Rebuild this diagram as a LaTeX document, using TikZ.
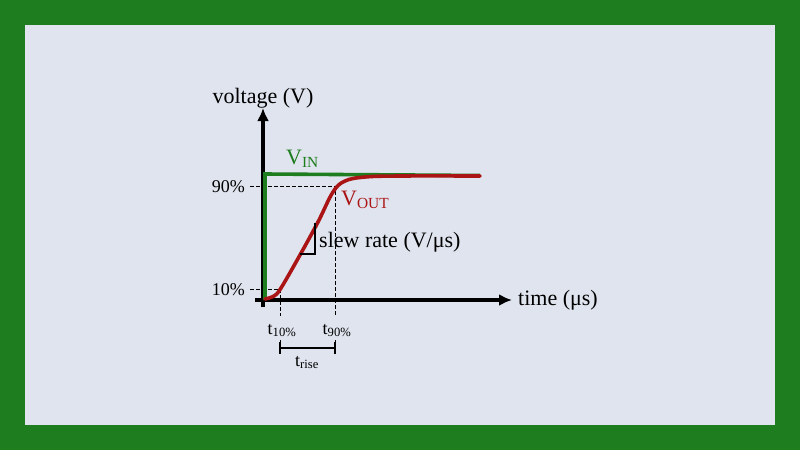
\documentclass[tikz,border=0pt]{standalone}
\usepackage{fontspec}
\setmainfont{Liberation Serif}
\usetikzlibrary{arrows.meta}
\begin{document}
\begin{tikzpicture}[x=1pt,y=-1pt,
  lbl/.style={inner sep=0pt,font=\fontsize{22}{24}\selectfont},
  sm/.style={inner sep=0pt,font=\fontsize{18}{20}\selectfont},
  dsh/.style={line width=0.9pt,dash pattern=on 3.5pt off 2.5pt},
  ax/.style={line width=3.2pt,-{Latex[length=13pt,width=12pt]}}]
\fill[fill={rgb,255:red,30;green,125;blue,30}] (0,0) rectangle (800,450);
\fill[fill={rgb,255:red,224;green,228;blue,238}] (25,25) rectangle (775,425);
\useasboundingbox (0,0) rectangle (800,450);
\coordinate (ytop) at (263,108);
\coordinate (xl) at (255,300);
\coordinate (xr) at (512,300);
% dashed guides
\draw[dsh] (250,186) -- (335,186) -- (335,316);
\draw[dsh] (250,289) -- (280,289) -- (280,316);
\draw[dsh] (335,340) -- (335,348);
\draw[dsh] (280,340) -- (280,348);
% axes
\draw[ax] (263,307) -- (ytop);
\draw[ax] (xl) -- (xr);
% VIN
\draw[line width=3.6pt,color={rgb,255:red,30;green,125;blue,30}] (265,300) -- (265,174) -- (480,175.5);
% VOUT
\draw[line width=3.6pt,color={rgb,255:red,170;green,20;blue,20},line cap=round] plot[smooth,tension=0.6] coordinates {(265,299) (274,296) (281,288) (300,255) (318,222) (333,192) (345,181) (365,177) (400,176) (480,176)};
% slope triangle
\draw[line width=1.8pt] (315,223) -- (315,254) -- (300,254);
% bracket
\draw[line width=1.2pt] (280,342) -- (280,354) (280,348) -- (335,348) (335,342) -- (335,354);
% labels
\node[lbl,anchor=base] (yl) at (263,103) {voltage (V)};
\node[lbl,anchor=west] (xlab) at (518,300) {time (μs)};
\node[sm,anchor=east] (p90) at (245,187) {90\%};
\node[sm,anchor=east] (p10) at (245,290) {10\%};
\node[lbl,anchor=base west] (slew) at (319,247) {slew rate (V/μs)};
\node[lbl,anchor=base west,text={rgb,255:red,30;green,125;blue,30}] (vin) at (286,164) {V\textsubscript{IN}};
\node[lbl,anchor=base west,text={rgb,255:red,170;green,20;blue,20}] (vout) at (341,205) {V\textsubscript{OUT}};
\node[sm,anchor=base] (t10) at (282,334) {t\textsubscript{10\%}};
\node[sm,anchor=base] (t90) at (337,334) {t\textsubscript{90\%}};
\node[sm,anchor=base] (tr) at (307,366) {t\textsubscript{rise}};
\end{tikzpicture}
\end{document}
